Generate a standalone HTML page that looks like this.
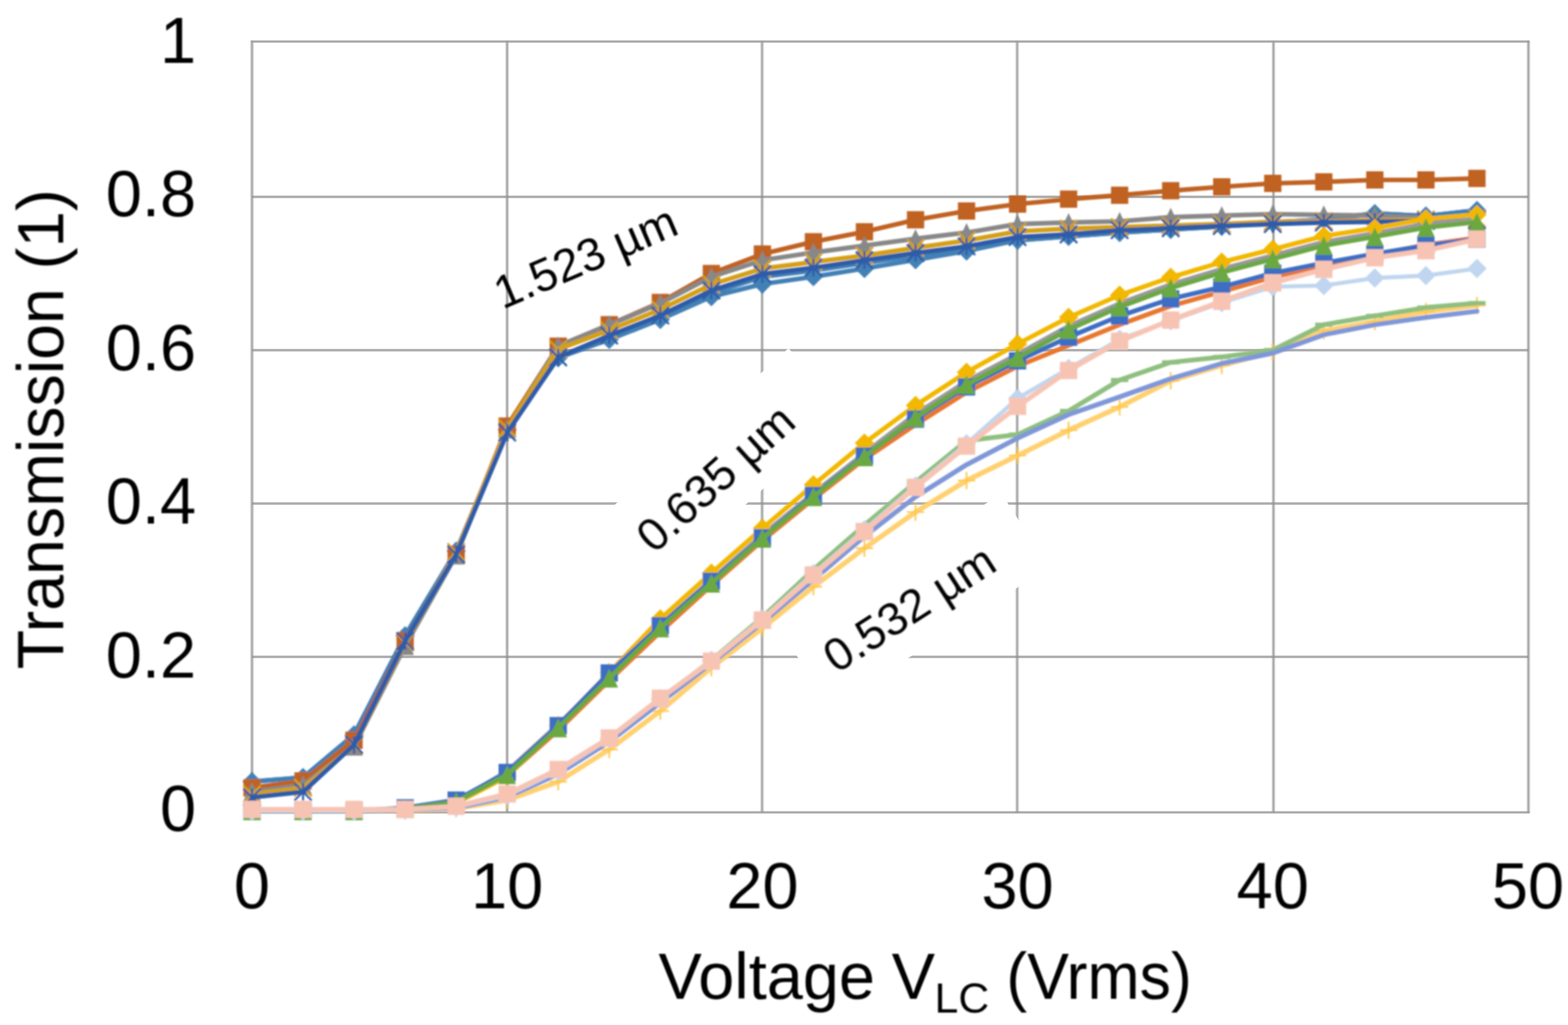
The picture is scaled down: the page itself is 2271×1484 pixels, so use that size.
<!DOCTYPE html>
<html lang="en"><head><meta charset="utf-8"><title>Transmission vs Voltage</title>
<style>html,body{margin:0;padding:0;background:#fff;}body{width:2271px;height:1484px;overflow:hidden;}svg{display:block;}text{font-family:"Liberation Sans",Arial,sans-serif;fill:#000;}</style>
</head><body>
<svg width="2271" height="1484" viewBox="0 0 2271 1484">
<defs><filter id="bl" x="-5%" y="-5%" width="110%" height="110%"><feGaussianBlur stdDeviation="1.2"/></filter><filter id="bg" x="-5%" y="-5%" width="110%" height="110%"><feGaussianBlur stdDeviation="0.7"/></filter><filter id="bt" x="-5%" y="-5%" width="110%" height="110%"><feGaussianBlur stdDeviation="0.95"/></filter><filter id="bh" x="-5%" y="-5%" width="110%" height="110%"><feGaussianBlur stdDeviation="0.35"/></filter><filter id="bv" x="-5%" y="-5%" width="110%" height="110%"><feGaussianBlur stdDeviation="0.9"/></filter></defs>
<rect width="2271" height="1484" fill="#fff"/>
<g id="grid">
<g id="hgrid" stroke="#ABABAB" stroke-width="3.5" filter="url(#bh)"><line x1="365" y1="951" x2="2213.7" y2="951"/><line x1="365" y1="729" x2="2213.7" y2="729"/><line x1="365" y1="506.9" x2="2213.7" y2="506.9"/><line x1="365" y1="285" x2="2213.7" y2="285"/></g>
<g id="frame" stroke="#A8A8A8" stroke-width="3.2" filter="url(#bg)"><line x1="363.2" y1="1176.1" x2="2215.5" y2="1176.1"/><line x1="363.2" y1="60.2" x2="2215.5" y2="60.2"/></g>
<g id="vgrid" stroke="#909090" stroke-width="2.9" filter="url(#bv)"><line x1="365" y1="60.2" x2="365" y2="1176.1"/><line x1="734.5" y1="60.2" x2="734.5" y2="1176.1"/><line x1="1103.8" y1="60.2" x2="1103.8" y2="1176.1"/><line x1="1473.2" y1="60.2" x2="1473.2" y2="1176.1"/><line x1="1844.4" y1="60.2" x2="1844.4" y2="1176.1"/><line x1="2213.7" y1="60.2" x2="2213.7" y2="1176.1"/></g>
<rect x="-188.7" y="-63.3" width="377.4" height="126.6" fill="#fff" transform="translate(1044.1 677.6) rotate(-42)"/><rect x="-188.2" y="-63.5" width="376.4" height="127" fill="#fff" transform="translate(1326.7 869.9) rotate(-32.8)"/>
</g>
<g filter="url(#bl)">
<g id="sA0"><polyline points="365,1131.7 438.9,1125.7 512.8,1063.9 586.8,920.5 660.7,798.1 734.6,622.4 808.5,517.9 882.4,489.7 956.4,460.7 1030.3,424.6 1104.2,400.8 1178.1,391.7 1252,380.6 1326,370.2 1399.9,360.6 1473.8,347.8 1547.7,342.2 1621.6,336.7 1695.6,332.2 1769.5,327.8 1843.4,322.2 1917.3,317.8 1991.2,309.2 2065.2,312.8 2139.1,304.7" fill="none" stroke="#4380B5" stroke-width="6.7" stroke-linejoin="round" stroke-linecap="round"/>
</g>
<g id="sA1"><polyline points="365,1131.7 438.9,1125.7 512.8,1063.9 586.8,920.5 660.7,798.1 734.6,622.4 808.5,517.9 882.4,491.6 956.4,462.5 1030.3,429.5 1104.2,411.2 1178.1,400.6 1252,388.7 1326,376.1 1399.9,363.4 1473.8,347.8 1547.7,342.2 1621.6,336.7 1695.6,332.2 1769.5,327.8 1843.4,322.2 1917.3,317.8 1991.2,309.2 2065.2,312.8 2139.1,304.7" fill="none" stroke="#4380B5" stroke-width="6.7" stroke-linejoin="round" stroke-linecap="round"/>
<polygon points="365,1117.7 379,1131.7 365,1145.7 351,1131.7" fill="#4380B5"/><polygon points="438.9,1111.7 452.9,1125.7 438.9,1139.7 424.9,1125.7" fill="#4380B5"/><polygon points="512.8,1049.9 526.8,1063.9 512.8,1077.9 498.8,1063.9" fill="#4380B5"/><polygon points="586.8,906.5 600.8,920.5 586.8,934.5 572.8,920.5" fill="#4380B5"/><polygon points="660.7,784.1 674.7,798.1 660.7,812.1 646.7,798.1" fill="#4380B5"/><polygon points="734.6,608.4 748.6,622.4 734.6,636.4 720.6,622.4" fill="#4380B5"/><polygon points="808.5,503.9 822.5,517.9 808.5,531.9 794.5,517.9" fill="#4380B5"/><polygon points="882.4,477.6 896.4,491.6 882.4,505.6 868.4,491.6" fill="#4380B5"/><polygon points="956.4,448.5 970.4,462.5 956.4,476.5 942.4,462.5" fill="#4380B5"/><polygon points="1030.3,415.5 1044.3,429.5 1030.3,443.5 1016.3,429.5" fill="#4380B5"/><polygon points="1104.2,397.2 1118.2,411.2 1104.2,425.2 1090.2,411.2" fill="#4380B5"/><polygon points="1178.1,386.6 1192.1,400.6 1178.1,414.6 1164.1,400.6" fill="#4380B5"/><polygon points="1252,374.7 1266,388.7 1252,402.7 1238,388.7" fill="#4380B5"/><polygon points="1326,362.1 1340,376.1 1326,390.1 1312,376.1" fill="#4380B5"/><polygon points="1399.9,349.4 1413.9,363.4 1399.9,377.4 1385.9,363.4" fill="#4380B5"/><polygon points="1473.8,333.8 1487.8,347.8 1473.8,361.8 1459.8,347.8" fill="#4380B5"/><polygon points="1547.7,328.2 1561.7,342.2 1547.7,356.2 1533.7,342.2" fill="#4380B5"/><polygon points="1621.6,322.7 1635.6,336.7 1621.6,350.7 1607.6,336.7" fill="#4380B5"/><polygon points="1695.6,318.2 1709.6,332.2 1695.6,346.2 1681.6,332.2" fill="#4380B5"/><polygon points="1769.5,313.8 1783.5,327.8 1769.5,341.8 1755.5,327.8" fill="#4380B5"/><polygon points="1843.4,308.2 1857.4,322.2 1843.4,336.2 1829.4,322.2" fill="#4380B5"/><polygon points="1917.3,303.8 1931.3,317.8 1917.3,331.8 1903.3,317.8" fill="#4380B5"/><polygon points="1991.2,295.2 2005.2,309.2 1991.2,323.2 1977.2,309.2" fill="#4380B5"/><polygon points="2065.2,298.8 2079.2,312.8 2065.2,326.8 2051.2,312.8" fill="#4380B5"/><polygon points="2139.1,290.7 2153.1,304.7 2139.1,318.7 2125.1,304.7" fill="#4380B5"/>
</g>
<g id="sA2"><polyline points="365,1140.6 438.9,1130.6 512.8,1071.7 586.8,927.7 660.7,802.6 734.6,616.9 808.5,501.2 882.4,470.1 956.4,437.9 1030.3,396 1104.2,367.8 1178.1,350 1252,335.6 1326,318.2 1399.9,305.5 1473.8,295.5 1547.7,288.3 1621.6,282.7 1695.6,276.1 1769.5,270.5 1843.4,265.5 1917.3,263.3 1991.2,260.5 2065.2,260.5 2139.1,258.3" fill="none" stroke="#C06220" stroke-width="6.7" stroke-linejoin="round" stroke-linecap="round"/>
<rect x="352.5" y="1128.1" width="25" height="25" fill="#C06220"/><rect x="426.4" y="1118.1" width="25" height="25" fill="#C06220"/><rect x="500.3" y="1059.2" width="25" height="25" fill="#C06220"/><rect x="574.3" y="915.2" width="25" height="25" fill="#C06220"/><rect x="648.2" y="790.1" width="25" height="25" fill="#C06220"/><rect x="722.1" y="604.4" width="25" height="25" fill="#C06220"/><rect x="796" y="488.7" width="25" height="25" fill="#C06220"/><rect x="869.9" y="457.6" width="25" height="25" fill="#C06220"/><rect x="943.9" y="425.4" width="25" height="25" fill="#C06220"/><rect x="1017.8" y="383.5" width="25" height="25" fill="#C06220"/><rect x="1091.7" y="355.3" width="25" height="25" fill="#C06220"/><rect x="1165.6" y="337.5" width="25" height="25" fill="#C06220"/><rect x="1239.5" y="323.1" width="25" height="25" fill="#C06220"/><rect x="1313.5" y="305.7" width="25" height="25" fill="#C06220"/><rect x="1387.4" y="293" width="25" height="25" fill="#C06220"/><rect x="1461.3" y="283" width="25" height="25" fill="#C06220"/><rect x="1535.2" y="275.8" width="25" height="25" fill="#C06220"/><rect x="1609.1" y="270.2" width="25" height="25" fill="#C06220"/><rect x="1683.1" y="263.6" width="25" height="25" fill="#C06220"/><rect x="1757" y="258" width="25" height="25" fill="#C06220"/><rect x="1830.9" y="253" width="25" height="25" fill="#C06220"/><rect x="1904.8" y="250.8" width="25" height="25" fill="#C06220"/><rect x="1978.7" y="248" width="25" height="25" fill="#C06220"/><rect x="2052.7" y="248" width="25" height="25" fill="#C06220"/><rect x="2126.6" y="245.8" width="25" height="25" fill="#C06220"/>
</g>
<g id="sA3"><polyline points="365,1146.5 438.9,1136.6 512.8,1080.6 586.8,934.9 660.7,803.7 734.6,621.3 808.5,501.2 882.4,470.3 956.4,439.2 1030.3,400.9 1104.2,376.7 1178.1,365.6 1252,355.6 1326,345.6 1399.9,336.7 1473.8,324.4 1547.7,322.2 1621.6,320.5 1695.6,314.4 1769.5,312.2 1843.4,310 1917.3,311.1 1991.2,312.2 2065.2,315.5 2139.1,322.2" fill="none" stroke="#888888" stroke-width="6.7" stroke-linejoin="round" stroke-linecap="round"/>
<polygon points="365,1132.8 377.8,1160 352.2,1160" fill="#888888"/><polygon points="438.9,1122.9 451.7,1150.1 426.1,1150.1" fill="#888888"/><polygon points="512.8,1066.8 525.6,1094.1 500,1094.1" fill="#888888"/><polygon points="586.8,921.2 599.6,948.4 574,948.4" fill="#888888"/><polygon points="660.7,790 673.5,817.2 647.9,817.2" fill="#888888"/><polygon points="734.6,607.6 747.4,634.8 721.8,634.8" fill="#888888"/><polygon points="808.5,487.5 821.3,514.7 795.7,514.7" fill="#888888"/><polygon points="882.4,456.6 895.2,483.8 869.6,483.8" fill="#888888"/><polygon points="956.4,425.4 969.2,452.7 943.6,452.7" fill="#888888"/><polygon points="1030.3,387.2 1043.1,414.4 1017.5,414.4" fill="#888888"/><polygon points="1104.2,362.9 1117,390.2 1091.4,390.2" fill="#888888"/><polygon points="1178.1,351.8 1190.9,379.1 1165.3,379.1" fill="#888888"/><polygon points="1252,341.8 1264.8,369.1 1239.2,369.1" fill="#888888"/><polygon points="1326,331.8 1338.8,359.1 1313.2,359.1" fill="#888888"/><polygon points="1399.9,322.9 1412.7,350.2 1387.1,350.2" fill="#888888"/><polygon points="1473.8,310.7 1486.6,337.9 1461,337.9" fill="#888888"/><polygon points="1547.7,308.5 1560.5,335.7 1534.9,335.7" fill="#888888"/><polygon points="1621.6,306.8 1634.4,334 1608.8,334" fill="#888888"/><polygon points="1695.6,300.7 1708.4,327.9 1682.8,327.9" fill="#888888"/><polygon points="1769.5,298.4 1782.3,325.7 1756.7,325.7" fill="#888888"/><polygon points="1843.4,296.2 1856.2,323.5 1830.6,323.5" fill="#888888"/><polygon points="1917.3,297.3 1930.1,324.6 1904.5,324.6" fill="#888888"/><polygon points="1991.2,298.4 2004,325.7 1978.4,325.7" fill="#888888"/><polygon points="2065.2,301.8 2078,329 2052.4,329" fill="#888888"/><polygon points="2139.1,308.5 2151.9,335.7 2126.3,335.7" fill="#888888"/>
</g>
<g id="sA4"><polyline points="365,1149.9 438.9,1140.6 512.8,1079.5 586.8,930.5 660.7,799.3 734.6,619.7 808.5,505.7 882.4,478 956.4,448 1030.3,411.9 1104.2,388.9 1178.1,379.4 1252,370 1326,358.9 1399.9,348.3 1473.8,335 1547.7,331.1 1621.6,328.9 1695.6,326.7 1769.5,324.4 1843.4,321.1 1917.3,320 1991.2,318.9 2065.2,317.8 2139.1,316.6" fill="none" stroke="#D4A017" stroke-width="6.7" stroke-linejoin="round" stroke-linecap="round"/>
<path d="M352.5 1137.4L377.5 1162.4M352.5 1162.4L377.5 1137.4" stroke="#D4A017" stroke-width="3" fill="none"/><path d="M426.4 1128.1L451.4 1153.1M426.4 1153.1L451.4 1128.1" stroke="#D4A017" stroke-width="3" fill="none"/><path d="M500.3 1067L525.3 1092M500.3 1092L525.3 1067" stroke="#D4A017" stroke-width="3" fill="none"/><path d="M574.3 918L599.3 943M574.3 943L599.3 918" stroke="#D4A017" stroke-width="3" fill="none"/><path d="M648.2 786.8L673.2 811.8M648.2 811.8L673.2 786.8" stroke="#D4A017" stroke-width="3" fill="none"/><path d="M722.1 607.2L747.1 632.2M722.1 632.2L747.1 607.2" stroke="#D4A017" stroke-width="3" fill="none"/><path d="M796 493.2L821 518.2M796 518.2L821 493.2" stroke="#D4A017" stroke-width="3" fill="none"/><path d="M869.9 465.5L894.9 490.5M869.9 490.5L894.9 465.5" stroke="#D4A017" stroke-width="3" fill="none"/><path d="M943.9 435.5L968.9 460.5M943.9 460.5L968.9 435.5" stroke="#D4A017" stroke-width="3" fill="none"/><path d="M1017.8 399.4L1042.8 424.4M1017.8 424.4L1042.8 399.4" stroke="#D4A017" stroke-width="3" fill="none"/><path d="M1091.7 376.4L1116.7 401.4M1091.7 401.4L1116.7 376.4" stroke="#D4A017" stroke-width="3" fill="none"/><path d="M1165.6 366.9L1190.6 391.9M1165.6 391.9L1190.6 366.9" stroke="#D4A017" stroke-width="3" fill="none"/><path d="M1239.5 357.5L1264.5 382.5M1239.5 382.5L1264.5 357.5" stroke="#D4A017" stroke-width="3" fill="none"/><path d="M1313.5 346.4L1338.5 371.4M1313.5 371.4L1338.5 346.4" stroke="#D4A017" stroke-width="3" fill="none"/><path d="M1387.4 335.8L1412.4 360.8M1387.4 360.8L1412.4 335.8" stroke="#D4A017" stroke-width="3" fill="none"/><path d="M1461.3 322.5L1486.3 347.5M1461.3 347.5L1486.3 322.5" stroke="#D4A017" stroke-width="3" fill="none"/><path d="M1535.2 318.6L1560.2 343.6M1535.2 343.6L1560.2 318.6" stroke="#D4A017" stroke-width="3" fill="none"/><path d="M1609.1 316.4L1634.1 341.4M1609.1 341.4L1634.1 316.4" stroke="#D4A017" stroke-width="3" fill="none"/><path d="M1683.1 314.2L1708.1 339.2M1683.1 339.2L1708.1 314.2" stroke="#D4A017" stroke-width="3" fill="none"/><path d="M1757 311.9L1782 336.9M1757 336.9L1782 311.9" stroke="#D4A017" stroke-width="3" fill="none"/><path d="M1830.9 308.6L1855.9 333.6M1830.9 333.6L1855.9 308.6" stroke="#D4A017" stroke-width="3" fill="none"/><path d="M1904.8 307.5L1929.8 332.5M1904.8 332.5L1929.8 307.5" stroke="#D4A017" stroke-width="3" fill="none"/><path d="M1978.7 306.4L2003.7 331.4M1978.7 331.4L2003.7 306.4" stroke="#D4A017" stroke-width="3" fill="none"/><path d="M2052.7 305.3L2077.7 330.3M2052.7 330.3L2077.7 305.3" stroke="#D4A017" stroke-width="3" fill="none"/><path d="M2126.6 304.1L2151.6 329.1M2126.6 329.1L2151.6 304.1" stroke="#D4A017" stroke-width="3" fill="none"/>
</g>
<g id="sA5"><polyline points="365,1154.5 438.9,1146.5 512.8,1078.4 586.8,928.2 660.7,802.6 734.6,626.3 808.5,517.4 882.4,485.8 956.4,456.8 1030.3,420.7 1104.2,396.9 1178.1,387.8 1252,376.7 1326,366.4 1399.9,356.7 1473.8,343.3 1547.7,339.4 1621.6,333.3 1695.6,330.4 1769.5,327.2 1843.4,324.4 1917.3,322.2 1991.2,321.1 2065.2,320 2139.1,318.9" fill="none" stroke="#2E5CA8" stroke-width="6.7" stroke-linejoin="round" stroke-linecap="round"/>
<path d="M352.5 1142L377.5 1167M352.5 1167L377.5 1142M365 1142L365 1167" stroke="#2E5CA8" stroke-width="3" fill="none"/><path d="M426.4 1134L451.4 1159M426.4 1159L451.4 1134M438.9 1134L438.9 1159" stroke="#2E5CA8" stroke-width="3" fill="none"/><path d="M500.3 1065.9L525.3 1090.9M500.3 1090.9L525.3 1065.9M512.8 1065.9L512.8 1090.9" stroke="#2E5CA8" stroke-width="3" fill="none"/><path d="M574.3 915.7L599.3 940.7M574.3 940.7L599.3 915.7M586.8 915.7L586.8 940.7" stroke="#2E5CA8" stroke-width="3" fill="none"/><path d="M648.2 790.1L673.2 815.1M648.2 815.1L673.2 790.1M660.7 790.1L660.7 815.1" stroke="#2E5CA8" stroke-width="3" fill="none"/><path d="M722.1 613.8L747.1 638.8M722.1 638.8L747.1 613.8M734.6 613.8L734.6 638.8" stroke="#2E5CA8" stroke-width="3" fill="none"/><path d="M796 504.9L821 529.9M796 529.9L821 504.9M808.5 504.9L808.5 529.9" stroke="#2E5CA8" stroke-width="3" fill="none"/><path d="M869.9 473.3L894.9 498.3M869.9 498.3L894.9 473.3M882.4 473.3L882.4 498.3" stroke="#2E5CA8" stroke-width="3" fill="none"/><path d="M943.9 444.3L968.9 469.3M943.9 469.3L968.9 444.3M956.4 444.3L956.4 469.3" stroke="#2E5CA8" stroke-width="3" fill="none"/><path d="M1017.8 408.2L1042.8 433.2M1017.8 433.2L1042.8 408.2M1030.3 408.2L1030.3 433.2" stroke="#2E5CA8" stroke-width="3" fill="none"/><path d="M1091.7 384.4L1116.7 409.4M1091.7 409.4L1116.7 384.4M1104.2 384.4L1104.2 409.4" stroke="#2E5CA8" stroke-width="3" fill="none"/><path d="M1165.6 375.3L1190.6 400.3M1165.6 400.3L1190.6 375.3M1178.1 375.3L1178.1 400.3" stroke="#2E5CA8" stroke-width="3" fill="none"/><path d="M1239.5 364.2L1264.5 389.2M1239.5 389.2L1264.5 364.2M1252 364.2L1252 389.2" stroke="#2E5CA8" stroke-width="3" fill="none"/><path d="M1313.5 353.9L1338.5 378.9M1313.5 378.9L1338.5 353.9M1326 353.9L1326 378.9" stroke="#2E5CA8" stroke-width="3" fill="none"/><path d="M1387.4 344.2L1412.4 369.2M1387.4 369.2L1412.4 344.2M1399.9 344.2L1399.9 369.2" stroke="#2E5CA8" stroke-width="3" fill="none"/><path d="M1461.3 330.8L1486.3 355.8M1461.3 355.8L1486.3 330.8M1473.8 330.8L1473.8 355.8" stroke="#2E5CA8" stroke-width="3" fill="none"/><path d="M1535.2 326.9L1560.2 351.9M1535.2 351.9L1560.2 326.9M1547.7 326.9L1547.7 351.9" stroke="#2E5CA8" stroke-width="3" fill="none"/><path d="M1609.1 320.8L1634.1 345.8M1609.1 345.8L1634.1 320.8M1621.6 320.8L1621.6 345.8" stroke="#2E5CA8" stroke-width="3" fill="none"/><path d="M1683.1 317.9L1708.1 342.9M1683.1 342.9L1708.1 317.9M1695.6 317.9L1695.6 342.9" stroke="#2E5CA8" stroke-width="3" fill="none"/><path d="M1757 314.7L1782 339.7M1757 339.7L1782 314.7M1769.5 314.7L1769.5 339.7" stroke="#2E5CA8" stroke-width="3" fill="none"/><path d="M1830.9 311.9L1855.9 336.9M1830.9 336.9L1855.9 311.9M1843.4 311.9L1843.4 336.9" stroke="#2E5CA8" stroke-width="3" fill="none"/><path d="M1904.8 309.7L1929.8 334.7M1904.8 334.7L1929.8 309.7M1917.3 309.7L1917.3 334.7" stroke="#2E5CA8" stroke-width="3" fill="none"/><path d="M1978.7 308.6L2003.7 333.6M1978.7 333.6L2003.7 308.6M1991.2 308.6L1991.2 333.6" stroke="#2E5CA8" stroke-width="3" fill="none"/><path d="M2052.7 307.5L2077.7 332.5M2052.7 332.5L2077.7 307.5M2065.2 307.5L2065.2 332.5" stroke="#2E5CA8" stroke-width="3" fill="none"/><path d="M2126.6 306.4L2151.6 331.4M2126.6 331.4L2151.6 306.4M2139.1 306.4L2139.1 331.4" stroke="#2E5CA8" stroke-width="3" fill="none"/>
</g>
<g id="sB3"><polyline points="365,1174 438.9,1174 512.8,1174 586.8,1170.7 660.7,1160.7 734.6,1116.7 808.5,1048.9 882.4,977.1 956.4,904.3 1030.3,839.6 1104.2,774.3 1178.1,714.2 1252,656.4 1326,599.7 1399.9,552.1 1473.8,512.9 1547.7,472.3 1621.6,439.5 1695.6,411.9 1769.5,389.6 1843.4,369.9 1917.3,350.6 1991.2,337.7 2065.2,324.4 2139.1,316.5" fill="none" stroke="#999999" stroke-width="6.7" stroke-linejoin="round" stroke-linecap="round"/>
</g>
<g id="sB2"><polyline points="365,1174 438.9,1174 512.8,1174 586.8,1170.7 660.7,1160.7 734.6,1122.8 808.5,1057.2 882.4,985 956.4,914.9 1030.3,847.6 1104.2,782.6 1178.1,722.5 1252,664.7 1326,614.7 1399.9,568 1473.8,530.2 1547.7,500.1 1621.6,470.1 1695.6,443.1 1769.5,422.3 1843.4,401.2 1917.3,384.5 1991.2,368.9 2065.2,354.5 2139.1,344.4" fill="none" stroke="#E8772E" stroke-width="6.7" stroke-linejoin="round" stroke-linecap="round"/>
</g>
<g id="sB4"><polyline points="365,1174 438.9,1174 512.8,1174 586.8,1171.8 660.7,1162.9 734.6,1124 808.5,1050.6 882.4,973.8 956.4,896 1030.3,829.8 1104.2,765 1178.1,702 1252,641.4 1326,586.9 1399.9,539 1473.8,497.9 1547.7,459.5 1621.6,427.3 1695.6,401.5 1769.5,379.6 1843.4,361.1 1917.3,341.7 1991.2,330.4 2065.2,317.1 2139.1,310.5" fill="none" stroke="#F2B705" stroke-width="6.7" stroke-linejoin="round" stroke-linecap="round"/>
<polygon points="365,1160 379,1174 365,1188 351,1174" fill="#F2B705"/><polygon points="438.9,1160 452.9,1174 438.9,1188 424.9,1174" fill="#F2B705"/><polygon points="512.8,1160 526.8,1174 512.8,1188 498.8,1174" fill="#F2B705"/><polygon points="586.8,1157.8 600.8,1171.8 586.8,1185.8 572.8,1171.8" fill="#F2B705"/><polygon points="660.7,1148.9 674.7,1162.9 660.7,1176.9 646.7,1162.9" fill="#F2B705"/><polygon points="734.6,1110 748.6,1124 734.6,1138 720.6,1124" fill="#F2B705"/><polygon points="808.5,1036.6 822.5,1050.6 808.5,1064.6 794.5,1050.6" fill="#F2B705"/><polygon points="882.4,959.8 896.4,973.8 882.4,987.8 868.4,973.8" fill="#F2B705"/><polygon points="956.4,882 970.4,896 956.4,910 942.4,896" fill="#F2B705"/><polygon points="1030.3,815.8 1044.3,829.8 1030.3,843.8 1016.3,829.8" fill="#F2B705"/><polygon points="1104.2,751 1118.2,765 1104.2,779 1090.2,765" fill="#F2B705"/><polygon points="1178.1,688 1192.1,702 1178.1,716 1164.1,702" fill="#F2B705"/><polygon points="1252,627.4 1266,641.4 1252,655.4 1238,641.4" fill="#F2B705"/><polygon points="1326,572.9 1340,586.9 1326,600.9 1312,586.9" fill="#F2B705"/><polygon points="1399.9,525 1413.9,539 1399.9,553 1385.9,539" fill="#F2B705"/><polygon points="1473.8,483.9 1487.8,497.9 1473.8,511.9 1459.8,497.9" fill="#F2B705"/><polygon points="1547.7,445.5 1561.7,459.5 1547.7,473.5 1533.7,459.5" fill="#F2B705"/><polygon points="1621.6,413.3 1635.6,427.3 1621.6,441.3 1607.6,427.3" fill="#F2B705"/><polygon points="1695.6,387.5 1709.6,401.5 1695.6,415.5 1681.6,401.5" fill="#F2B705"/><polygon points="1769.5,365.6 1783.5,379.6 1769.5,393.6 1755.5,379.6" fill="#F2B705"/><polygon points="1843.4,347.1 1857.4,361.1 1843.4,375.1 1829.4,361.1" fill="#F2B705"/><polygon points="1917.3,327.7 1931.3,341.7 1917.3,355.7 1903.3,341.7" fill="#F2B705"/><polygon points="1991.2,316.4 2005.2,330.4 1991.2,344.4 1977.2,330.4" fill="#F2B705"/><polygon points="2065.2,303.1 2079.2,317.1 2065.2,331.1 2051.2,317.1" fill="#F2B705"/><polygon points="2139.1,296.5 2153.1,310.5 2139.1,324.5 2125.1,310.5" fill="#F2B705"/>
</g>
<g id="sB1"><polyline points="365,1174 438.9,1174 512.8,1174 586.8,1169.6 660.7,1158.4 734.6,1118.4 808.5,1050.6 882.4,974.3 956.4,906 1030.3,841.5 1104.2,778.5 1178.1,717.3 1252,660.3 1326,606.9 1399.9,560.2 1473.8,522.4 1547.7,488.2 1621.6,457.5 1695.6,432.7 1769.5,415.6 1843.4,395.6 1917.3,380.8 1991.2,367.5 2065.2,355.5 2139.1,346.4" fill="none" stroke="#3C6EC3" stroke-width="6.7" stroke-linejoin="round" stroke-linecap="round"/>
<rect x="352.5" y="1161.5" width="25" height="25" fill="#3C6EC3"/><rect x="426.4" y="1161.5" width="25" height="25" fill="#3C6EC3"/><rect x="500.3" y="1161.5" width="25" height="25" fill="#3C6EC3"/><rect x="574.3" y="1157.1" width="25" height="25" fill="#3C6EC3"/><rect x="648.2" y="1145.9" width="25" height="25" fill="#3C6EC3"/><rect x="722.1" y="1105.9" width="25" height="25" fill="#3C6EC3"/><rect x="796" y="1038.1" width="25" height="25" fill="#3C6EC3"/><rect x="869.9" y="961.8" width="25" height="25" fill="#3C6EC3"/><rect x="943.9" y="893.5" width="25" height="25" fill="#3C6EC3"/><rect x="1017.8" y="829" width="25" height="25" fill="#3C6EC3"/><rect x="1091.7" y="766" width="25" height="25" fill="#3C6EC3"/><rect x="1165.6" y="704.8" width="25" height="25" fill="#3C6EC3"/><rect x="1239.5" y="647.8" width="25" height="25" fill="#3C6EC3"/><rect x="1313.5" y="594.4" width="25" height="25" fill="#3C6EC3"/><rect x="1387.4" y="547.7" width="25" height="25" fill="#3C6EC3"/><rect x="1461.3" y="509.9" width="25" height="25" fill="#3C6EC3"/><rect x="1535.2" y="475.7" width="25" height="25" fill="#3C6EC3"/><rect x="1609.1" y="445" width="25" height="25" fill="#3C6EC3"/><rect x="1683.1" y="420.2" width="25" height="25" fill="#3C6EC3"/><rect x="1757" y="403.1" width="25" height="25" fill="#3C6EC3"/><rect x="1830.9" y="383.1" width="25" height="25" fill="#3C6EC3"/><rect x="1904.8" y="368.3" width="25" height="25" fill="#3C6EC3"/><rect x="1978.7" y="355" width="25" height="25" fill="#3C6EC3"/><rect x="2052.7" y="343" width="25" height="25" fill="#3C6EC3"/><rect x="2126.6" y="333.9" width="25" height="25" fill="#3C6EC3"/>
</g>
<g id="sB5"><polyline points="365,1174 438.9,1174 512.8,1174 586.8,1170.7 660.7,1160.7 734.6,1121.7 808.5,1053.9 882.4,982.1 956.4,909.3 1030.3,844.6 1104.2,779.4 1178.1,719.2 1252,661.4 1326,604.7 1399.9,557.1 1473.8,517.9 1547.7,477.3 1621.6,444.5 1695.6,417 1769.5,394.6 1843.4,374.9 1917.3,355.6 1991.2,342.7 2065.2,329.4 2139.1,321.5" fill="none" stroke="#6AA842" stroke-width="6.7" stroke-linejoin="round" stroke-linecap="round"/>
<polygon points="365,1160.2 377.8,1187.5 352.2,1187.5" fill="#6AA842"/><polygon points="438.9,1160.2 451.7,1187.5 426.1,1187.5" fill="#6AA842"/><polygon points="512.8,1160.2 525.6,1187.5 500,1187.5" fill="#6AA842"/><polygon points="586.8,1156.9 599.6,1184.2 574,1184.2" fill="#6AA842"/><polygon points="660.7,1146.9 673.5,1174.2 647.9,1174.2" fill="#6AA842"/><polygon points="734.6,1108 747.4,1135.2 721.8,1135.2" fill="#6AA842"/><polygon points="808.5,1040.2 821.3,1067.4 795.7,1067.4" fill="#6AA842"/><polygon points="882.4,968.3 895.2,995.6 869.6,995.6" fill="#6AA842"/><polygon points="956.4,895.6 969.2,922.8 943.6,922.8" fill="#6AA842"/><polygon points="1030.3,830.9 1043.1,858.1 1017.5,858.1" fill="#6AA842"/><polygon points="1104.2,765.6 1117,792.9 1091.4,792.9" fill="#6AA842"/><polygon points="1178.1,705.4 1190.9,732.7 1165.3,732.7" fill="#6AA842"/><polygon points="1252,647.6 1264.8,674.9 1239.2,674.9" fill="#6AA842"/><polygon points="1326,590.9 1338.8,618.2 1313.2,618.2" fill="#6AA842"/><polygon points="1399.9,543.3 1412.7,570.6 1387.1,570.6" fill="#6AA842"/><polygon points="1473.8,504.2 1486.6,531.4 1461,531.4" fill="#6AA842"/><polygon points="1547.7,463.6 1560.5,490.8 1534.9,490.8" fill="#6AA842"/><polygon points="1621.6,430.8 1634.4,458 1608.8,458" fill="#6AA842"/><polygon points="1695.6,403.2 1708.4,430.5 1682.8,430.5" fill="#6AA842"/><polygon points="1769.5,380.8 1782.3,408.1 1756.7,408.1" fill="#6AA842"/><polygon points="1843.4,361.2 1856.2,388.4 1830.6,388.4" fill="#6AA842"/><polygon points="1917.3,341.8 1930.1,369.1 1904.5,369.1" fill="#6AA842"/><polygon points="1991.2,328.9 2004,356.2 1978.4,356.2" fill="#6AA842"/><polygon points="2065.2,315.7 2078,342.9 2052.4,342.9" fill="#6AA842"/><polygon points="2139.1,307.8 2151.9,335 2126.3,335" fill="#6AA842"/>
</g>
<g id="sC5"><polyline points="365,1174 438.9,1174 512.8,1174 586.8,1174 660.7,1170.7 734.6,1158.4 808.5,1131.7 882.4,1085 956.4,1029.4 1030.3,966.7 1104.2,909.3 1178.1,849.5 1252,793.7 1326,741.4 1399.9,695.8 1473.8,659.4 1547.7,622.9 1621.6,589.1 1695.6,551.3 1769.5,529 1843.4,509.6 1917.3,479 1991.2,465.7 2065.2,451.2 2139.1,442.3" fill="none" stroke="#FFD070" stroke-width="7.3" stroke-linejoin="round" stroke-linecap="round"/>
<path d="M352.5 1174L377.5 1174M365 1161.5L365 1186.5" stroke="#FFC84A" stroke-width="2.4" fill="none"/><path d="M426.4 1174L451.4 1174M438.9 1161.5L438.9 1186.5" stroke="#FFC84A" stroke-width="2.4" fill="none"/><path d="M500.3 1174L525.3 1174M512.8 1161.5L512.8 1186.5" stroke="#FFC84A" stroke-width="2.4" fill="none"/><path d="M574.3 1174L599.3 1174M586.8 1161.5L586.8 1186.5" stroke="#FFC84A" stroke-width="2.4" fill="none"/><path d="M648.2 1170.7L673.2 1170.7M660.7 1158.2L660.7 1183.2" stroke="#FFC84A" stroke-width="2.4" fill="none"/><path d="M722.1 1158.4L747.1 1158.4M734.6 1145.9L734.6 1170.9" stroke="#FFC84A" stroke-width="2.4" fill="none"/><path d="M796 1131.7L821 1131.7M808.5 1119.2L808.5 1144.2" stroke="#FFC84A" stroke-width="2.4" fill="none"/><path d="M869.9 1085L894.9 1085M882.4 1072.5L882.4 1097.5" stroke="#FFC84A" stroke-width="2.4" fill="none"/><path d="M943.9 1029.4L968.9 1029.4M956.4 1016.9L956.4 1041.9" stroke="#FFC84A" stroke-width="2.4" fill="none"/><path d="M1017.8 966.7L1042.8 966.7M1030.3 954.2L1030.3 979.2" stroke="#FFC84A" stroke-width="2.4" fill="none"/><path d="M1091.7 909.3L1116.7 909.3M1104.2 896.8L1104.2 921.8" stroke="#FFC84A" stroke-width="2.4" fill="none"/><path d="M1165.6 849.5L1190.6 849.5M1178.1 837L1178.1 862" stroke="#FFC84A" stroke-width="2.4" fill="none"/><path d="M1239.5 793.7L1264.5 793.7M1252 781.2L1252 806.2" stroke="#FFC84A" stroke-width="2.4" fill="none"/><path d="M1313.5 741.4L1338.5 741.4M1326 728.9L1326 753.9" stroke="#FFC84A" stroke-width="2.4" fill="none"/><path d="M1387.4 695.8L1412.4 695.8M1399.9 683.3L1399.9 708.3" stroke="#FFC84A" stroke-width="2.4" fill="none"/><path d="M1461.3 659.4L1486.3 659.4M1473.8 646.9L1473.8 671.9" stroke="#FFC84A" stroke-width="2.4" fill="none"/><path d="M1535.2 622.9L1560.2 622.9M1547.7 610.4L1547.7 635.4" stroke="#FFC84A" stroke-width="2.4" fill="none"/><path d="M1609.1 589.1L1634.1 589.1M1621.6 576.6L1621.6 601.6" stroke="#FFC84A" stroke-width="2.4" fill="none"/><path d="M1683.1 551.3L1708.1 551.3M1695.6 538.8L1695.6 563.8" stroke="#FFC84A" stroke-width="2.4" fill="none"/><path d="M1757 529L1782 529M1769.5 516.5L1769.5 541.5" stroke="#FFC84A" stroke-width="2.4" fill="none"/><path d="M1830.9 509.6L1855.9 509.6M1843.4 497.1L1843.4 522.1" stroke="#FFC84A" stroke-width="2.4" fill="none"/><path d="M1904.8 479L1929.8 479M1917.3 466.5L1917.3 491.5" stroke="#FFC84A" stroke-width="2.4" fill="none"/><path d="M1978.7 465.7L2003.7 465.7M1991.2 453.2L1991.2 478.2" stroke="#FFC84A" stroke-width="2.4" fill="none"/><path d="M2052.7 451.2L2077.7 451.2M2065.2 438.7L2065.2 463.7" stroke="#FFC84A" stroke-width="2.4" fill="none"/><path d="M2126.6 442.3L2151.6 442.3M2139.1 429.8L2139.1 454.8" stroke="#FFC84A" stroke-width="2.4" fill="none"/>
</g>
<g id="sC3"><polyline points="365,1174 438.9,1174 512.8,1174 586.8,1172.9 660.7,1168.4 734.6,1152.9 808.5,1118.4 882.4,1070.6 956.4,1012.8 1030.3,956 1104.2,893.8 1178.1,824.8 1252,760.3 1326,698.1 1399.9,638 1473.8,629.1 1547.7,595 1621.6,550.2 1695.6,524.6 1769.5,516.8 1843.4,506.8 1917.3,470.1 1991.2,457.3 2065.2,445.3 2139.1,438.9" fill="none" stroke="#8FBF7F" stroke-width="6.9" stroke-linejoin="round" stroke-linecap="round"/>
<rect x="352.5" y="1171" width="25" height="6" fill="#8FBF7F"/><rect x="426.4" y="1171" width="25" height="6" fill="#8FBF7F"/><rect x="500.3" y="1171" width="25" height="6" fill="#8FBF7F"/><rect x="574.3" y="1169.9" width="25" height="6" fill="#8FBF7F"/><rect x="648.2" y="1165.4" width="25" height="6" fill="#8FBF7F"/><rect x="722.1" y="1149.9" width="25" height="6" fill="#8FBF7F"/><rect x="796" y="1115.4" width="25" height="6" fill="#8FBF7F"/><rect x="869.9" y="1067.6" width="25" height="6" fill="#8FBF7F"/><rect x="943.9" y="1009.8" width="25" height="6" fill="#8FBF7F"/><rect x="1017.8" y="953" width="25" height="6" fill="#8FBF7F"/><rect x="1091.7" y="890.8" width="25" height="6" fill="#8FBF7F"/><rect x="1165.6" y="821.8" width="25" height="6" fill="#8FBF7F"/><rect x="1239.5" y="757.3" width="25" height="6" fill="#8FBF7F"/><rect x="1313.5" y="695.1" width="25" height="6" fill="#8FBF7F"/><rect x="1387.4" y="635" width="25" height="6" fill="#8FBF7F"/><rect x="1461.3" y="626.1" width="25" height="6" fill="#8FBF7F"/><rect x="1535.2" y="592" width="25" height="6" fill="#8FBF7F"/><rect x="1609.1" y="547.2" width="25" height="6" fill="#8FBF7F"/><rect x="1683.1" y="521.6" width="25" height="6" fill="#8FBF7F"/><rect x="1757" y="513.8" width="25" height="6" fill="#8FBF7F"/><rect x="1830.9" y="503.8" width="25" height="6" fill="#8FBF7F"/><rect x="1904.8" y="467.1" width="25" height="6" fill="#8FBF7F"/><rect x="1978.7" y="454.3" width="25" height="6" fill="#8FBF7F"/><rect x="2052.7" y="442.3" width="25" height="6" fill="#8FBF7F"/><rect x="2126.6" y="435.9" width="25" height="6" fill="#8FBF7F"/>
</g>
<g id="sC4"><polyline points="365,1174 438.9,1174 512.8,1174 586.8,1172.9 660.7,1169.6 734.6,1154 808.5,1120.6 882.4,1073.9 956.4,1017.2 1030.3,960.5 1104.2,901.6 1178.1,839.3 1252,776.6 1326,719.2 1399.9,672.8 1473.8,634.3 1547.7,600.2 1621.6,574.6 1695.6,548.4 1769.5,526.3 1843.4,511.2 1917.3,484.6 1991.2,470.1 2065.2,459.5 2139.1,450.6" fill="none" stroke="#7F97D8" stroke-width="7" stroke-linejoin="round" stroke-linecap="round"/>
</g>
<g id="sC1"><polyline points="365,1174 438.9,1174 512.8,1174 586.8,1172.9 660.7,1168.4 734.6,1151.8 808.5,1116.2 882.4,1069.5 956.4,1011.6 1030.3,956 1104.2,896 1178.1,830.4 1252,767 1326,703.6 1399.9,642.5 1473.8,576.9 1547.7,533.5 1621.6,491.2 1695.6,464.5 1769.5,438.3 1843.4,415.1 1917.3,413.4 1991.2,402.5 2065.2,399 2139.1,388.8" fill="none" stroke="#C0D5EF" stroke-width="5.9" stroke-linejoin="round" stroke-linecap="round"/>
<polygon points="365,1160 379,1174 365,1188 351,1174" fill="#C0D5EF"/><polygon points="438.9,1160 452.9,1174 438.9,1188 424.9,1174" fill="#C0D5EF"/><polygon points="512.8,1160 526.8,1174 512.8,1188 498.8,1174" fill="#C0D5EF"/><polygon points="586.8,1158.9 600.8,1172.9 586.8,1186.9 572.8,1172.9" fill="#C0D5EF"/><polygon points="660.7,1154.4 674.7,1168.4 660.7,1182.4 646.7,1168.4" fill="#C0D5EF"/><polygon points="734.6,1137.8 748.6,1151.8 734.6,1165.8 720.6,1151.8" fill="#C0D5EF"/><polygon points="808.5,1102.2 822.5,1116.2 808.5,1130.2 794.5,1116.2" fill="#C0D5EF"/><polygon points="882.4,1055.5 896.4,1069.5 882.4,1083.5 868.4,1069.5" fill="#C0D5EF"/><polygon points="956.4,997.6 970.4,1011.6 956.4,1025.6 942.4,1011.6" fill="#C0D5EF"/><polygon points="1030.3,942 1044.3,956 1030.3,970 1016.3,956" fill="#C0D5EF"/><polygon points="1104.2,882 1118.2,896 1104.2,910 1090.2,896" fill="#C0D5EF"/><polygon points="1178.1,816.4 1192.1,830.4 1178.1,844.4 1164.1,830.4" fill="#C0D5EF"/><polygon points="1252,753 1266,767 1252,781 1238,767" fill="#C0D5EF"/><polygon points="1326,689.6 1340,703.6 1326,717.6 1312,703.6" fill="#C0D5EF"/><polygon points="1399.9,628.5 1413.9,642.5 1399.9,656.5 1385.9,642.5" fill="#C0D5EF"/><polygon points="1473.8,562.9 1487.8,576.9 1473.8,590.9 1459.8,576.9" fill="#C0D5EF"/><polygon points="1547.7,519.5 1561.7,533.5 1547.7,547.5 1533.7,533.5" fill="#C0D5EF"/><polygon points="1621.6,477.2 1635.6,491.2 1621.6,505.2 1607.6,491.2" fill="#C0D5EF"/><polygon points="1695.6,450.5 1709.6,464.5 1695.6,478.5 1681.6,464.5" fill="#C0D5EF"/><polygon points="1769.5,424.3 1783.5,438.3 1769.5,452.3 1755.5,438.3" fill="#C0D5EF"/><polygon points="1843.4,401.1 1857.4,415.1 1843.4,429.1 1829.4,415.1" fill="#C0D5EF"/><polygon points="1917.3,399.4 1931.3,413.4 1917.3,427.4 1903.3,413.4" fill="#C0D5EF"/><polygon points="1991.2,388.5 2005.2,402.5 1991.2,416.5 1977.2,402.5" fill="#C0D5EF"/><polygon points="2065.2,385 2079.2,399 2065.2,413 2051.2,399" fill="#C0D5EF"/><polygon points="2139.1,374.8 2153.1,388.8 2139.1,402.8 2125.1,388.8" fill="#C0D5EF"/>
</g>
<g id="sC2"><polyline points="365,1171.8 438.9,1171.8 512.8,1171.8 586.8,1171.8 660.7,1167.3 734.6,1149.5 808.5,1114 882.4,1068.4 956.4,1010.9 1030.3,957.2 1104.2,897.6 1178.1,832.3 1252,769.7 1326,705.5 1399.9,645.9 1473.8,588.3 1547.7,536.4 1621.6,494 1695.6,463.4 1769.5,436.2 1843.4,409.5 1917.3,390 1991.2,373.2 2065.2,363 2139.1,346.2" fill="none" stroke="#F7C4B4" stroke-width="7.3" stroke-linejoin="round" stroke-linecap="round"/>
<rect x="352.5" y="1159.3" width="25" height="25" fill="#F7C4B4"/><rect x="426.4" y="1159.3" width="25" height="25" fill="#F7C4B4"/><rect x="500.3" y="1159.3" width="25" height="25" fill="#F7C4B4"/><rect x="574.3" y="1159.3" width="25" height="25" fill="#F7C4B4"/><rect x="648.2" y="1154.8" width="25" height="25" fill="#F7C4B4"/><rect x="722.1" y="1137" width="25" height="25" fill="#F7C4B4"/><rect x="796" y="1101.5" width="25" height="25" fill="#F7C4B4"/><rect x="869.9" y="1055.9" width="25" height="25" fill="#F7C4B4"/><rect x="943.9" y="998.4" width="25" height="25" fill="#F7C4B4"/><rect x="1017.8" y="944.7" width="25" height="25" fill="#F7C4B4"/><rect x="1091.7" y="885.1" width="25" height="25" fill="#F7C4B4"/><rect x="1165.6" y="819.8" width="25" height="25" fill="#F7C4B4"/><rect x="1239.5" y="757.2" width="25" height="25" fill="#F7C4B4"/><rect x="1313.5" y="693" width="25" height="25" fill="#F7C4B4"/><rect x="1387.4" y="633.4" width="25" height="25" fill="#F7C4B4"/><rect x="1461.3" y="575.8" width="25" height="25" fill="#F7C4B4"/><rect x="1535.2" y="523.9" width="25" height="25" fill="#F7C4B4"/><rect x="1609.1" y="481.5" width="25" height="25" fill="#F7C4B4"/><rect x="1683.1" y="450.9" width="25" height="25" fill="#F7C4B4"/><rect x="1757" y="423.7" width="25" height="25" fill="#F7C4B4"/><rect x="1830.9" y="397" width="25" height="25" fill="#F7C4B4"/><rect x="1904.8" y="377.5" width="25" height="25" fill="#F7C4B4"/><rect x="1978.7" y="360.7" width="25" height="25" fill="#F7C4B4"/><rect x="2052.7" y="350.5" width="25" height="25" fill="#F7C4B4"/><rect x="2126.6" y="333.7" width="25" height="25" fill="#F7C4B4"/>
</g>
<text x="284" y="1203" font-size="94" text-anchor="end">0</text>
<text x="284" y="980.6" font-size="94" text-anchor="end">0.2</text>
<text x="284" y="758.2" font-size="94" text-anchor="end">0.4</text>
<text x="284" y="535.8" font-size="94" text-anchor="end">0.6</text>
<text x="284" y="313.4" font-size="94" text-anchor="end">0.8</text>
<text x="284" y="91" font-size="94" text-anchor="end">1</text>
<text x="365" y="1315" font-size="94" text-anchor="middle">0</text>
<text x="734.6" y="1315" font-size="94" text-anchor="middle">10</text>
<text x="1104.2" y="1315" font-size="94" text-anchor="middle">20</text>
<text x="1473.8" y="1315" font-size="94" text-anchor="middle">30</text>
<text x="1843.4" y="1315" font-size="94" text-anchor="middle">40</text>
<text x="2213" y="1315" font-size="94" text-anchor="middle">50</text>
<text transform="translate(91.5 969) rotate(-90)" font-size="94"><tspan x="0" textLength="551.8" lengthAdjust="spacingAndGlyphs">Transmission</tspan><tspan x="552.4" textLength="142.9" lengthAdjust="spacingAndGlyphs"> (1)</tspan></text>
<text y="1446" font-size="94"><tspan x="953.8" textLength="313.6" lengthAdjust="spacingAndGlyphs">Voltage</tspan><tspan x="1265.3"> V</tspan><tspan x="1353.6" dy="20.3" font-size="62">LC</tspan><tspan x="1432.3" dy="-20.3" textLength="293.9" lengthAdjust="spacingAndGlyphs"> (Vrms)</tspan></text>
</g>
<g id="labels" filter="url(#bt)">
<text transform="translate(857 393) rotate(-23.2)" font-size="67" text-anchor="middle">1.523 µm</text>
<text transform="translate(1051.6 709.1) rotate(-42)" font-size="67" text-anchor="middle">0.635 µm</text>
<text transform="translate(1329.3 899.9) rotate(-32.8)" font-size="67" text-anchor="middle">0.532 µm</text>
</g></svg></body></html>
